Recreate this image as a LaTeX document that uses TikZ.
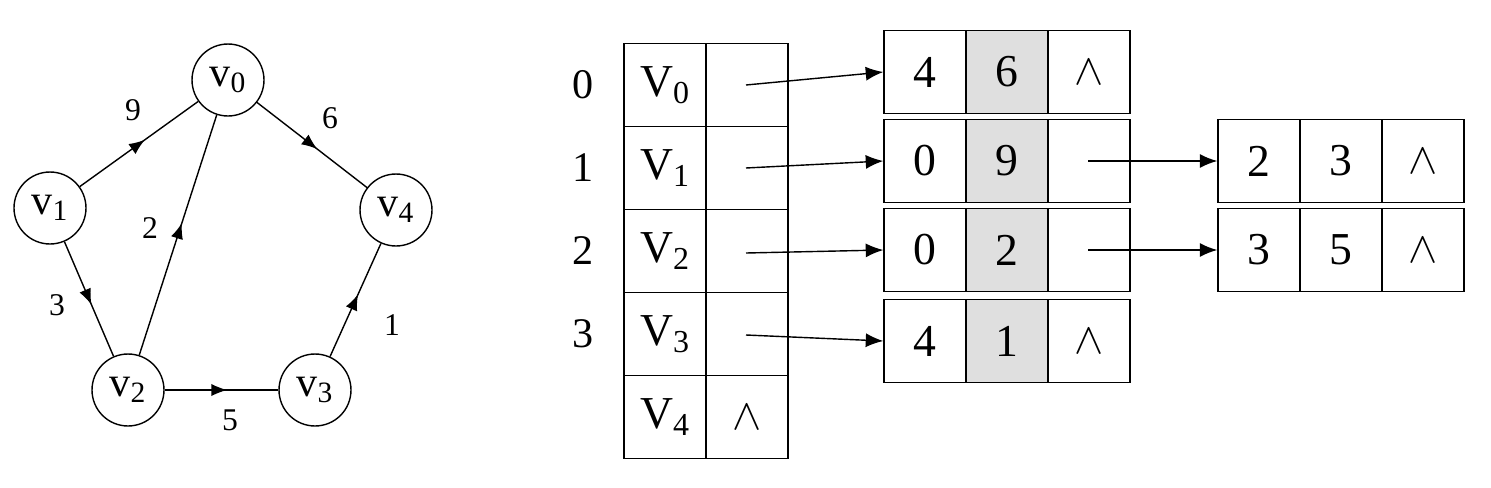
\documentclass[tikz,border=0pt]{standalone}
\usepackage{fontspec}
\setmainfont{Liberation Serif}
\usetikzlibrary{arrows.meta,decorations.markings}
\begin{document}
\begin{tikzpicture}[x=0.02cm,y=-0.02cm,
  vert/.style={circle,draw,thick,minimum size=1.44cm,inner sep=0pt,font=\fontsize{24}{24}\selectfont},
  mid/.style={decoration={markings,mark=at position 0.55 with {\arrow{Latex[length=9pt,width=7pt]}}},postaction={decorate}},
  lab/.style={font=\fontsize{18}{18}\selectfont},
  cell/.style={draw,thick,minimum width=1.64cm,minimum height=1.66cm,inner sep=0pt,font=\fontsize{26}{26}\selectfont},
  nil/.style={font=\fontsize{34}{34}\selectfont},
  ptr/.style={-{Latex[length=10pt,width=8pt]},thick}]
\useasboundingbox (0,0) rectangle (1491,487);
% graph
\node[vert] (v0) at (228,80) {v\textsubscript{0}};
\node[vert] (v1) at (50,208) {v\textsubscript{1}};
\node[vert] (v4) at (396,210) {v\textsubscript{4}};
\node[vert] (v2) at (128,390) {v\textsubscript{2}};
\node[vert] (v3) at (315,390) {v\textsubscript{3}};
\draw[thick,mid] (v1) -- (v0);
\draw[thick,mid] (v0) -- (v4);
\draw[thick,mid] (v1) -- (v2);
\draw[thick,mid] (v2) -- (v0);
\draw[thick,mid] (v2) -- (v3);
\draw[thick,mid] (v3) -- (v4);
\node[lab] (l9) at (133,110) {9};
\node[lab] (l6) at (330,118) {6};
\node[lab] (l3) at (57,305) {3};
\node[lab] (l2) at (150,228) {2};
\node[lab] (l5) at (230,420) {5};
\node[lab] (l1) at (392,325) {1};
% vertex table
\foreach \i/\y in {0/85,1/168,2/251,3/334,4/417}{
  \node[cell] (h\i) at (665,\y) {V\textsubscript{\i}};
  \node[cell] (p\i) at (747,\y) {};
}
\node[nil] at (p4) {$\wedge$};
\foreach \i/\y in {0/85,1/168,2/251,3/334}{
  \node[font=\fontsize{24}{24}\selectfont] (r\i) at (583,\y) {\i};
}
% edge nodes
\newcommand\enode[6]{%
  \node[cell] (#1a) at (#2,#3) {#4};
  \node[cell,fill=#6] (#1b) at (#2+82,#3) {#5};
  \node[cell] (#1c) at (#2+164,#3) {};
}
\enode{a0}{925}{72}{4}{6}{gray!25}
\enode{a1}{925}{161}{0}{9}{gray!25}
\enode{a2}{925}{250}{0}{2}{gray!25}
\enode{a3}{925}{341}{4}{1}{gray!25}
\enode{b1}{1259}{161}{2}{3}{white}
\enode{b2}{1259}{250}{3}{5}{white}
\foreach \n in {a0c,a3c,b1c,b2c}{
  \node[nil] at (\n) {$\wedge$};
}
\coordinate (s0) at (746,85);
\coordinate (s1) at (746,168);
\coordinate (s2) at (746,253);
\coordinate (s3) at (746,335);
\coordinate (t1) at (1088,161);
\coordinate (t2) at (1088,250);
\draw[ptr] (s0) -- (a0a.west);
\draw[ptr] (s1) -- (a1a.west);
\draw[ptr] (s2) -- (a2a.west);
\draw[ptr] (s3) -- (a3a.west);
\draw[ptr] (t1) -- (b1a.west);
\draw[ptr] (t2) -- (b2a.west);
\end{tikzpicture}
\end{document}
